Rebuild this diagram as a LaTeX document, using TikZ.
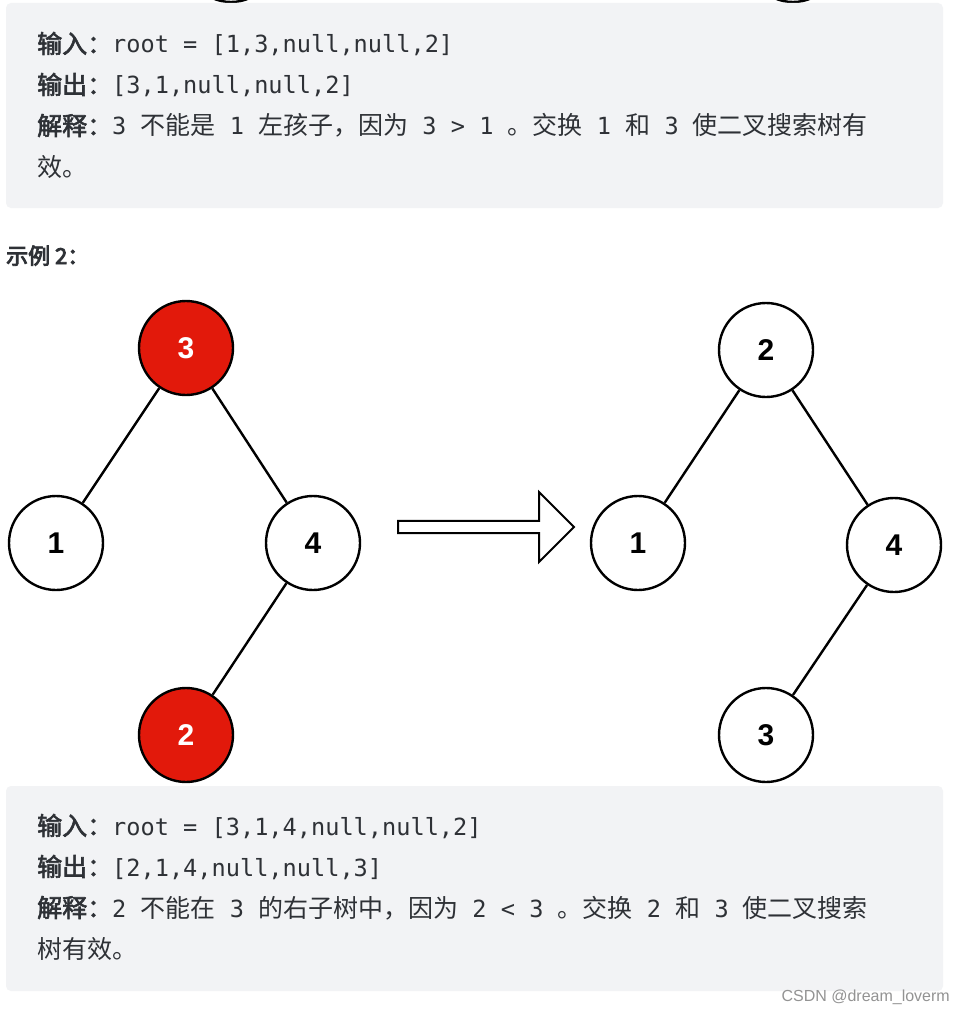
\documentclass[tikz,border=0pt]{standalone}
\usepackage{fontspec}
\setmainfont{Liberation Sans}
\newfontfamily\cjk[AutoFakeBold=2.5]{Noto Sans CJK SC}
\newfontfamily\cjkb[AutoFakeBold=4]{Noto Sans CJK SC}
\newfontfamily\mono{DejaVu Sans Mono}
\newfontfamily\numf{Liberation Sans}
\newcommand\mm[1]{{\fontsize{23.6}{23.6}\mono #1}}
\usetikzlibrary{shapes.arrows}
\definecolor{boxbg}{HTML}{F2F3F5}
\definecolor{txt}{HTML}{2E3136}
\definecolor{redn}{HTML}{E2190B}
\begin{document}
\begin{tikzpicture}[x=1pt,y=-1pt,
  tn/.style={circle,draw=black,line width=2.4pt,minimum size=94pt,inner sep=0pt,fill=white,font=\numf\bfseries\fontsize{30}{30}\selectfont},
  rn/.style={tn,fill=redn,text=white},
  ed/.style={line width=2.4pt},
  ln/.style={anchor=base west,inner sep=0pt,text=txt,font=\cjk\fontsize{25}{25}\selectfont}]
\useasboundingbox (0,0) rectangle (966,1014);
\fill[white] (0,0) rectangle (966,1014);
% partial top circles
\node[tn] (ta) at (231,-45) {};
\node[tn] (tb) at (793,-45) {};
% box 1
\fill[boxbg,rounded corners=5pt] (6,3) rectangle (943,208);
\node[ln] (a1) at (37,53) {\textbf{输入：}\mm{root = [1,3,null,null,2]}};
\node[ln] (a2) at (37,94) {\textbf{输出：}\mm{[3,1,null,null,2]}};
\node[ln] (a3) at (37,135) {\textbf{解释：}\mm{3 }不能是\mm{ 1 }左孩子，因为\mm{ 3 > 1 }。交换\mm{ 1 }和\mm{ 3 }使二叉搜索树有};
\node[ln] (a4) at (37,176) {效。};
\node[anchor=base west,inner sep=0pt,text=txt,font=\cjkb\bfseries\fontsize{22}{22}\selectfont] (h2) at (6,264) {示例 2：};
% left tree
\node[rn] (l3) at (186,348) {3};
\node[tn] (l1) at (56,543) {1};
\node[tn] (l4) at (313,543) {4};
\node[rn] (l2) at (186,735) {2};
\draw[ed] (l3) -- (l1); \draw[ed] (l3) -- (l4); \draw[ed] (l4) -- (l2);
% arrow
\node[single arrow,draw=black,line width=2pt,fill=white,minimum height=176pt,minimum width=70pt,single arrow head extend=17pt,single arrow tip angle=90,inner sep=0pt,anchor=west] (arr) at (397,527) {\phantom{x}};
% right tree
\node[tn] (r2) at (766,350) {2};
\node[tn] (r1) at (638,543) {1};
\node[tn] (r4) at (894,545) {4};
\node[tn] (r3) at (766,735) {3};
\draw[ed] (r2) -- (r1); \draw[ed] (r2) -- (r4); \draw[ed] (r4) -- (r3);
% box 2
\fill[boxbg,rounded corners=5pt] (6,786) rectangle (943,991);
\node[ln] (b1) at (37,835) {\textbf{输入：}\mm{root = [3,1,4,null,null,2]}};
\node[ln] (b2) at (37,876) {\textbf{输出：}\mm{[2,1,4,null,null,3]}};
\node[ln] (b3) at (37,917) {\textbf{解释：}\mm{2 }不能在\mm{ 3 }的右子树中，因为\mm{ 2 < 3 }。交换\mm{ 2 }和\mm{ 3 }使二叉搜索};
\node[ln] (b4) at (37,958) {树有效。};
\node[anchor=base east,inner sep=0pt,text=gray!85,font=\fontsize{16}{16}\selectfont] (wm) at (950,1001) {CSDN @dream\_loverm};
\end{tikzpicture}
\end{document}
